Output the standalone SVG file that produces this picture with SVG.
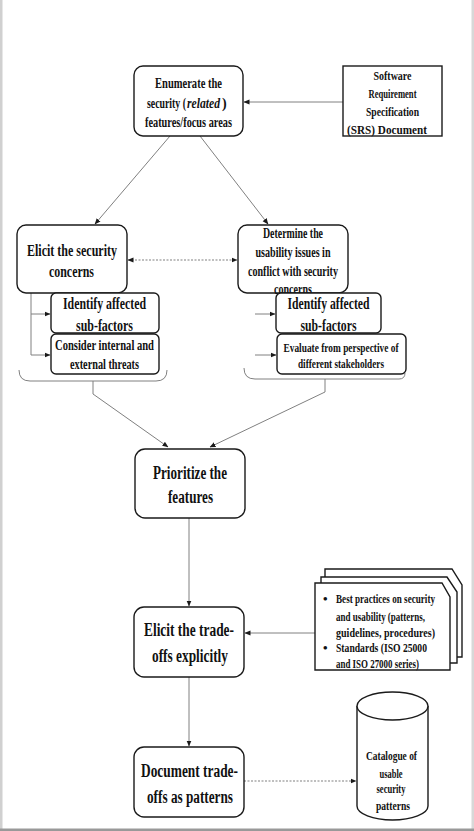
<svg xmlns="http://www.w3.org/2000/svg" width="474" height="831" viewBox="0 0 474 831">
<style>
.box{fill:#fff;stroke:#1a1a1a;stroke-width:1.4}
.t{font-family:"Liberation Serif","Times New Roman",serif;font-weight:bold;fill:#111;text-anchor:middle}
.tl{font-family:"Liberation Serif","Times New Roman",serif;font-weight:bold;fill:#111}
.c{fill:none;stroke:#808080;stroke-width:1}
.d{fill:none;stroke:#808080;stroke-width:1.2;stroke-dasharray:2,1.5}
</style>
<defs>
<marker id="ah" markerWidth="6" markerHeight="6" refX="5.5" refY="3" orient="auto-start-reverse" markerUnits="userSpaceOnUse">
<path d="M0,0.5 L6,3 L0,5.5 z" fill="#1a1a1a"/>
</marker>
</defs>
<rect width="474" height="831" fill="#fff"/>
<rect x="0" y="0" width="2.5" height="831" fill="#d0d0d0"/>
<rect x="471.5" y="0" width="2.5" height="831" fill="#d8d8d8"/>
<rect x="0" y="828.5" width="474" height="2.5" fill="#999"/>

<g id="connectors">
<path class="c" d="M343,102 L244,102" marker-end="url(#ah)"/>
<path class="c" d="M170,136 L95,224" marker-end="url(#ah)"/>
<path class="c" d="M200,136 L268,224" marker-end="url(#ah)"/>
<path class="d" d="M128,260 L237,260" marker-start="url(#ah)" marker-end="url(#ah)"/>
<path class="c" d="M31,293 L31,355 M31,314 L50,314" marker-end="url(#ah)"/>
<path class="c" d="M31,355 L50,355" marker-end="url(#ah)"/>
<path class="c" d="M255,314 L275,314" marker-end="url(#ah)"/>
<path class="c" d="M255,355 L276,355" marker-end="url(#ah)"/>
<path class="c" d="M19,370 Q19,381 30,381 L156,381 Q167,381 167,370"/>
<path class="c" d="M93,381 L93,394 L168,447" marker-end="url(#ah)"/>
<path class="c" d="M244,368 Q244,379 255,379 L399,379 Q405,379 405,373"/>
<path class="c" d="M325,379 L325,392 L210,447" marker-end="url(#ah)"/>
<path class="c" d="M189,518 L189,606" marker-end="url(#ah)"/>
<path class="c" d="M315,633 L245,633" marker-end="url(#ah)"/>
<path class="c" d="M189,677 L189,746" marker-end="url(#ah)"/>
<path class="d" d="M244,781 L356,781" marker-end="url(#ah)"/>
</g>

<g id="enumerate">
<rect class="box" x="134" y="66" width="109" height="70" rx="9"/>
<text class="t" font-size="14" x="188.5" y="88" textLength="67" lengthAdjust="spacingAndGlyphs">Enumerate the</text>
<text class="tl" font-size="14" x="147" y="108" textLength="39" lengthAdjust="spacingAndGlyphs">security (</text>
<text class="tl" font-size="14" font-style="italic" x="187" y="108" textLength="33" lengthAdjust="spacingAndGlyphs">related</text>
<text class="tl" font-size="14" x="222" y="108">)</text>
<text class="t" font-size="14" x="188.5" y="127" textLength="87" lengthAdjust="spacingAndGlyphs">features/focus areas</text>
</g>

<g id="srs">
<rect class="box" x="343" y="66" width="99" height="70"/>
<text class="t" font-size="13" x="392.5" y="79.5" textLength="38" lengthAdjust="spacingAndGlyphs">Software</text>
<text class="t" font-size="13" x="392.5" y="97.5" textLength="48" lengthAdjust="spacingAndGlyphs">Requirement</text>
<text class="t" font-size="13" x="392.5" y="116" textLength="53" lengthAdjust="spacingAndGlyphs">Specification</text>
<text class="t" font-size="13" x="387" y="133.5" textLength="80" lengthAdjust="spacingAndGlyphs">(SRS) Document</text>
</g>

<g id="elicit-security">
<rect class="box" x="17" y="225" width="110" height="68" rx="9"/>
<text class="t" font-size="17" x="72" y="256" textLength="90" lengthAdjust="spacingAndGlyphs">Elicit the security</text>
<text class="t" font-size="17" x="71.5" y="277" textLength="45" lengthAdjust="spacingAndGlyphs">concerns</text>
</g>

<g id="determine">
<rect class="box" x="238" y="225" width="110" height="68" rx="9"/>
<text class="t" font-size="14" x="293" y="238" textLength="60" lengthAdjust="spacingAndGlyphs">Determine the</text>
<text class="t" font-size="14" x="293" y="257" textLength="75" lengthAdjust="spacingAndGlyphs">usability issues in</text>
<text class="t" font-size="14" x="293" y="276" textLength="90" lengthAdjust="spacingAndGlyphs">conflict with security</text>
<text class="t" font-size="14" x="293" y="293.5" textLength="38" lengthAdjust="spacingAndGlyphs">concerns</text>
</g>

<g id="left-subfactors">
<rect class="box" x="51" y="293" width="108" height="40" rx="5"/>
<text class="t" font-size="17" x="104.5" y="309" textLength="83" lengthAdjust="spacingAndGlyphs">Identify affected</text>
<text class="t" font-size="17" x="104.5" y="331" textLength="57" lengthAdjust="spacingAndGlyphs">sub-factors</text>
</g>

<g id="left-threats">
<rect class="box" x="51" y="334" width="108" height="40" rx="5"/>
<text class="t" font-size="14" x="104.5" y="350" textLength="99" lengthAdjust="spacingAndGlyphs">Consider internal and</text>
<text class="t" font-size="14" x="104.5" y="369" textLength="69" lengthAdjust="spacingAndGlyphs">external threats</text>
</g>

<g id="right-subfactors">
<rect class="box" x="276" y="293" width="105" height="40" rx="5"/>
<text class="t" font-size="17" x="328.5" y="309" textLength="82" lengthAdjust="spacingAndGlyphs">Identify affected</text>
<text class="t" font-size="17" x="328.5" y="331" textLength="56" lengthAdjust="spacingAndGlyphs">sub-factors</text>
</g>

<g id="right-stakeholders">
<rect class="box" x="277" y="334" width="129" height="40" rx="5"/>
<text class="t" font-size="13" x="341" y="351.5" textLength="115" lengthAdjust="spacingAndGlyphs">Evaluate from perspective of</text>
<text class="t" font-size="13" x="341" y="367.5" textLength="86" lengthAdjust="spacingAndGlyphs">different stakeholders</text>
</g>

<g id="prioritize">
<rect class="box" x="135" y="449" width="110" height="69" rx="10"/>
<text class="t" font-size="18" x="190" y="479" textLength="74" lengthAdjust="spacingAndGlyphs">Prioritize the</text>
<text class="t" font-size="18" x="190.5" y="503" textLength="45" lengthAdjust="spacingAndGlyphs">features</text>
</g>

<g id="elicit-tradeoffs">
<rect class="box" x="134" y="607" width="110" height="70" rx="10"/>
<text class="t" font-size="18" x="189" y="636" textLength="90" lengthAdjust="spacingAndGlyphs">Elicit the trade-</text>
<text class="t" font-size="18" x="190" y="662" textLength="76" lengthAdjust="spacingAndGlyphs">offs explicitly</text>
</g>

<g id="best-practices">
<path class="box" d="M325,569 L452,569 L462,585 L462,657 L325,657 Z"/>
<path class="box" d="M321,577 L447,577 L457,592 L457,663 L321,663 Z"/>
<path fill="#fff" d="M315,583 L442,583 L450,597 L450,670 L315,670 Z"/>
<text class="tl" font-size="13" x="323" y="602.5">•</text>
<text class="tl" font-size="13" x="336" y="602.5" textLength="99" lengthAdjust="spacingAndGlyphs">Best practices  on security</text>
<text class="tl" font-size="13" x="336" y="620.5" textLength="89" lengthAdjust="spacingAndGlyphs">and usability (patterns,</text>
<text class="tl" font-size="13" x="336" y="636.5" textLength="99" lengthAdjust="spacingAndGlyphs">guidelines, procedures)</text>
<text class="tl" font-size="13" x="323" y="651.5">•</text>
<text class="tl" font-size="13" x="336" y="651.5" textLength="91" lengthAdjust="spacingAndGlyphs">Standards (ISO 25000</text>
<text class="tl" font-size="13" x="336" y="667.5" textLength="83" lengthAdjust="spacingAndGlyphs">and ISO 27000 series)</text>
<path d="M315,583 L442,583 L450,597 L450,670 L315,670 Z" fill="none" stroke="#1a1a1a" stroke-width="1.4"/>
</g>

<g id="document">
<rect class="box" x="134" y="747" width="110" height="70" rx="10"/>
<text class="t" font-size="18" x="189.5" y="777" textLength="97" lengthAdjust="spacingAndGlyphs">Document trade-</text>
<text class="t" font-size="18" x="190" y="803" textLength="86" lengthAdjust="spacingAndGlyphs">offs as patterns</text>
</g>

<g id="catalogue">
<path class="box" d="M357,706 L357,806 A35.5,14 0 0 0 428,806 L428,706"/>
<ellipse class="box" cx="392.5" cy="706" rx="35.5" ry="14"/>
<text class="t" font-size="13" x="391.5" y="759.5" textLength="51" lengthAdjust="spacingAndGlyphs">Catalogue of</text>
<text class="t" font-size="13" x="391" y="777.5" textLength="23" lengthAdjust="spacingAndGlyphs">usable</text>
<text class="t" font-size="13" x="391" y="792.5" textLength="29" lengthAdjust="spacingAndGlyphs">security</text>
<text class="t" font-size="13" x="393" y="809.5" textLength="34" lengthAdjust="spacingAndGlyphs">patterns</text>
</g>
</svg>
